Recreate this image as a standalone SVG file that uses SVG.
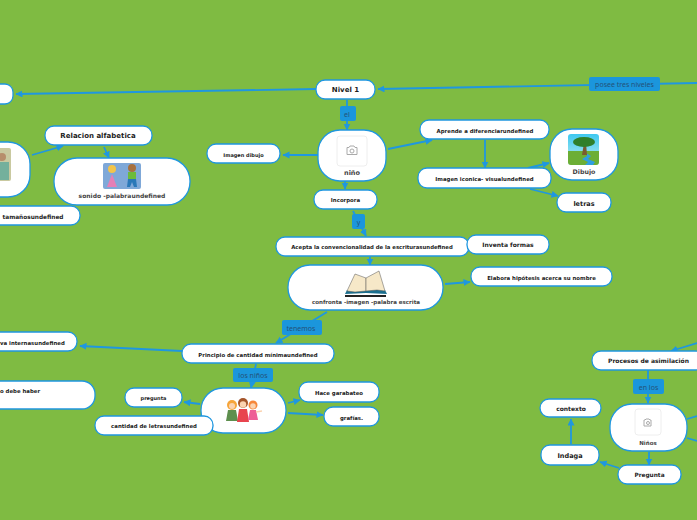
<svg xmlns="http://www.w3.org/2000/svg" width="697" height="520" viewBox="0 0 697 520">
<style>
.n{fill:#fff;stroke:#1f97e0;stroke-width:1.3}
.l{fill:#1b96dc;stroke:none}
.c{fill:none;stroke:#1f97e0;stroke-width:1.8;marker-end:url(#a)}
.p{fill:none;stroke:#1f97e0;stroke-width:1.8}
text{font-family:"DejaVu Sans",sans-serif;font-weight:bold;fill:#1c1c1c;text-anchor:middle}
.s{font-size:5.400px}.m{font-size:6.500px}.b{font-size:7px}
.g{font-size:5.500px;fill:#444}
.t{font-family:"Noto Sans",sans-serif;font-weight:normal;font-size:7px;fill:#23527a}
.ph{fill:#fff;stroke:#eee;stroke-width:1}
.cam{fill:none;stroke:#aaa;stroke-width:1}
</style>
<defs><marker id="a" markerUnits="userSpaceOnUse" markerWidth="8" markerHeight="8" refX="6.500" refY="3.500" orient="auto"><path d="M0 0L7 3.500L0 7Z" fill="#1f97e0"/></marker>
<linearGradient id="sky" x1="0" y1="0" x2="0" y2="1"><stop offset="0" stop-color="#3ec8f0"/><stop offset="1" stop-color="#bdeef0"/></linearGradient></defs>
<rect width="697" height="520" fill="#7fbb42"/>
<g id="connectors">
<path class="c" d="M316 89L16 94"/>
<path class="c" d="M697 83L378 89"/>
<path class="c" d="M347 100V130"/>
<path class="c" d="M318 155L283 155"/>
<path class="c" d="M388 149L432 140"/>
<path class="c" d="M345 181V189"/>
<path class="c" d="M353 211L366 236"/>
<path class="c" d="M485 140V168"/>
<path class="c" d="M528 168L549 163"/>
<path class="c" d="M530 189L558 196"/>
<path class="c" d="M370 257V265"/>
<path class="c" d="M445 284L470 282"/>
<path class="c" d="M327 312L276 343"/>
<path class="c" d="M182 351L80 346"/>
<path class="c" d="M256 364L251 388"/>
<path class="c" d="M200 404L184 402"/>
<path class="c" d="M288 403L300 400"/>
<path class="c" d="M288 413L323 415"/>
<path class="c" d="M32 155L63 146"/>
<path class="c" d="M104 147L109 158"/>
<path class="c" d="M697 343L671 351"/>
<path class="c" d="M648 370V403"/>
<path class="c" d="M649 452V465"/>
<path class="c" d="M619 468L600 462"/>
<path class="c" d="M571 444V419"/>
<path class="p" d="M687 419L697 416M687 438L697 441"/>
</g>
<g id="label-posee"><rect class="l" x="589" y="77" width="71" height="14" rx="2"/><text class="t" x="624.500" y="87">posee tres niveles</text></g>
<g id="label-el"><rect class="l" x="340" y="106" width="16" height="15" rx="2"/><text class="t" x="347" y="117">el</text></g>
<g id="label-y"><rect class="l" x="352" y="214" width="13" height="15" rx="2"/><text class="t" x="358.500" y="225">y</text></g>
<g id="label-tenemos"><rect class="l" x="282" y="320" width="40" height="15" rx="2"/><text class="t" x="301" y="330.500">tenemos</text></g>
<g id="label-ninos"><rect class="l" x="233" y="368" width="40" height="14" rx="2"/><text class="t" x="253" y="378">los niños</text></g>
<g id="label-enlos"><rect class="l" x="633" y="379" width="31" height="15" rx="2"/><text class="t" x="648.500" y="390">en los</text></g>
<g id="n-nivel0"><rect class="n" x="-60" y="84" width="73" height="20" rx="8"/></g>
<g id="n-nivel1"><rect class="n" x="316" y="80" width="59" height="19" rx="9"/><text class="b" x="345.500" y="92">Nivel 1</text></g>
<g id="n-nino"><rect class="n" x="318" y="130" width="68" height="51" rx="22"/><rect class="ph" x="337" y="136" width="30" height="30" rx="3"/><path class="cam" d="M347 147.500h2l1-1.500h4l1 1.500h2v7h-10z"/><circle class="cam" cx="352" cy="151" r="2"/><text style="font-size:6.500px;fill:#444" x="352" y="175">niño</text></g>
<g id="n-imagen-dibujo"><rect class="n" x="207" y="144" width="73" height="19" rx="9"/><text style="font-size:5px" x="243.500" y="157">Imagen dibujo</text></g>
<g id="n-incorpora"><rect class="n" x="314" y="190" width="63" height="19" rx="9"/><text class="s" x="345.500" y="202">Incorpora</text></g>
<g id="n-aprende"><rect class="n" x="420" y="120" width="129" height="19" rx="9"/><text class="s" x="485" y="133">Aprende a diferenciarundefined</text></g>
<g id="n-iconica"><rect class="n" x="418" y="168" width="133" height="20" rx="9"/><text class="s" x="484.500" y="181">Imagen iconica- visualundefined</text></g>
<g id="n-dibujo"><rect class="n" x="550" y="129" width="68" height="51" rx="22"/>
<rect x="568" y="134" width="31" height="31" rx="3" fill="url(#sky)"/><path d="M568 151h31v11a3 3 0 0 1-3 3h-25a3 3 0 0 1-3-3z" fill="#6cae35"/><path d="M586 153l5 3-3 3 7 3-2 3h-8l3-3-6-3 5-3z" fill="#2f9fe0"/><path d="M582 155l2-12h2l1 12z" fill="#7a5a30"/><ellipse cx="584" cy="142" rx="11" ry="5" fill="#2f7f2a"/>
<text style="font-size:6.300px;fill:#444" x="584" y="174">Dibujo</text></g>
<g id="n-letras"><rect class="n" x="557" y="193" width="54" height="19" rx="9"/><text class="m" x="584" y="206">letras</text></g>
<g id="n-acepta"><rect class="n" x="276" y="237" width="193" height="19" rx="9"/><text style="font-size:5.350px" x="372" y="249">Acepta la convencionalidad de la escriturasundefined</text></g>
<g id="n-inventa"><rect class="n" x="467" y="235" width="82" height="19" rx="9"/><text style="font-size:6px" x="508" y="247">Inventa formas</text></g>
<g id="n-confronta"><rect class="n" x="288" y="265" width="155" height="45" rx="22"/>
<path d="M345 294l21-1 21 1-2-4h-38z" fill="#1b6f8f"/><path d="M345 295h41v2h-41z" fill="#222"/><path d="M347 291l8-17 11 4v13l-11 1z" fill="#f6e8c8" stroke="#555" stroke-width=".5"/><path d="M385 291l-6-20-13 7v13l11-1z" fill="#f6e8c8" stroke="#555" stroke-width=".5"/>
<text class="g" x="366" y="304">confronta -imagen -palabra escrita</text></g>
<g id="n-elabora"><rect class="n" x="471" y="267" width="141" height="19" rx="9"/><text class="s" x="541.500" y="280">Elabora hipótesis acerca su nombre</text></g>
<g id="n-principio"><rect class="n" x="182" y="344" width="152" height="19" rx="9"/><text class="s" x="258" y="357">Principio de cantidad mínimaundefined</text></g>
<g id="n-interna"><rect class="n" x="-60" y="332" width="137" height="19" rx="9"/><text class="s" x="0" y="344.500" style="text-anchor:start">va internasundefined</text></g>
<g id="n-debe"><rect class="n" x="-60" y="381" width="155" height="28" rx="13"/><text class="s" x="0" y="393" style="text-anchor:start">o debe haber</text></g>
<g id="n-kids"><rect class="n" x="201" y="388" width="85" height="45" rx="22"/>
<circle cx="232" cy="405" r="5" fill="#f6a53a"/><circle cx="232" cy="406" r="3" fill="#fbd3b0"/><path d="M226 421l2-11h8l2 11z" fill="#5e8f4e"/><circle cx="243" cy="403" r="5" fill="#a5552a"/><circle cx="243" cy="404.500" r="3.200" fill="#fbd3b0"/><path d="M237 422l2-13h8l2 13z" fill="#e8444e"/><circle cx="253" cy="405" r="4.500" fill="#f6873a"/><circle cx="253" cy="406" r="2.800" fill="#fbd3b0"/><path d="M248 420l2-10h6l2 10z" fill="#ee5f96"/><path d="M256 412l6-1" stroke="#fbd3b0" stroke-width="1.500"/></g>
<g id="n-pregunta-izq"><rect class="n" x="125" y="388" width="57" height="19" rx="9"/><text style="font-size:5px" x="153.500" y="400">pregunta</text></g>
<g id="n-cantidad"><rect class="n" x="95" y="416" width="118" height="19" rx="9"/><text class="s" x="154" y="428">cantidad de letrasundefined</text></g>
<g id="n-garabateo"><rect class="n" x="299" y="382" width="80" height="20" rx="9"/><text class="s" x="339" y="395">Hace garabateo</text></g>
<g id="n-grafias"><rect class="n" x="324" y="407" width="55" height="19" rx="9"/><text class="s" x="351.500" y="420">grafías.</text></g>
<g id="n-relacion"><rect class="n" x="45" y="126" width="107" height="19" rx="9"/><text style="font-size:7px" x="98" y="138">Relacion alfabetica</text></g>
<g id="n-sonido"><rect class="n" x="54" y="158" width="136" height="47" rx="23"/>
<rect x="103" y="163" width="38" height="26" rx="2" fill="#7fa8d8"/><circle cx="112" cy="169" r="4" fill="#f3c44a"/><path d="M107 187l5-13 5 13z" fill="#e47fb6"/><circle cx="132" cy="168" r="4" fill="#a8703e"/><rect x="128" y="172" width="8" height="7" fill="#6cbb3c"/><path d="M128 179h8l1 8h-3l-2-5-2 5h-3z" fill="#2a78b8"/>
<text class="g" style="font-size:6px" x="122" y="198">sonido -palabraundefined</text></g>
<g id="n-foto"><rect class="n" x="-40" y="142" width="70" height="55" rx="22"/><rect x="-8" y="148" width="19" height="33" rx="2" fill="#c9c9a0"/><circle cx="2" cy="157" r="4" fill="#b78e6c"/><rect x="-6" y="162" width="15" height="18" fill="#74b09c"/></g>
<g id="n-tamanos"><rect class="n" x="-60" y="206" width="140" height="19" rx="9"/><text style="font-size:5.800px" x="33" y="219">tamañosundefined</text></g>
<g id="n-procesos"><rect class="n" x="592" y="351" width="112" height="19" rx="9"/><text style="font-size:6px" x="648.500" y="363">Procesos de asimilación</text></g>
<g id="n-ninos"><rect class="n" x="610" y="404" width="77" height="47" rx="22"/><rect class="ph" x="635" y="409" width="26" height="26" rx="3"/><path class="cam" d="M644 420h1l1-1h3l1 1h1v6h-7z"/><circle class="cam" cx="648" cy="423" r="1.500"/><text class="g" x="648" y="445">Niños</text></g>
<g id="n-contexto"><rect class="n" x="540" y="399" width="61" height="18" rx="9"/><text style="font-size:6px" x="571" y="411">contexto</text></g>
<g id="n-indaga"><rect class="n" x="541" y="445" width="58" height="20" rx="9"/><text class="m" x="570" y="458">Indaga</text></g>
<g id="n-pregunta"><rect class="n" x="618" y="465" width="63" height="19" rx="9"/><text style="font-size:5.800px" x="649.500" y="477">Pregunta</text></g>
</svg>
